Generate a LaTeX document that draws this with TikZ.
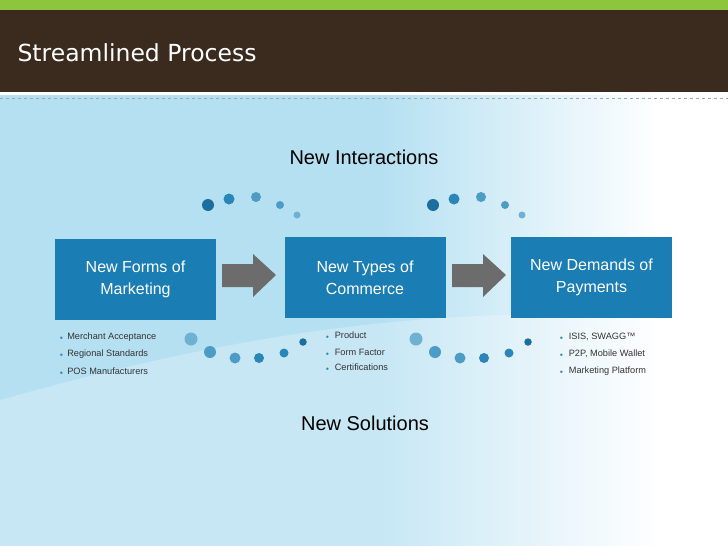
\documentclass[tikz,border=0pt]{standalone}
\usepackage{fontspec}
\setmainfont{Liberation Sans}
\newfontfamily\titlefont{DejaVu Sans}
\begin{document}
\begin{tikzpicture}[x=1pt,y=-1pt,
  box/.style={fill=boxblue,text=white,minimum width=161pt,minimum height=81pt,align=center,font=\fontsize{16}{22}\selectfont,inner sep=0pt},
  harrow/.style={fill=gray!85!black,draw=none},
  dot/.style={circle,inner sep=0pt,fill=#1},
  bl/.style={font=\fontsize{9.2}{11}\selectfont,anchor=west,text=black!80},
  lbl/.style={font=\fontsize{20}{24}\selectfont}]
\definecolor{boxblue}{HTML}{1A7DB3}
\definecolor{bgblue}{HTML}{B5E0F2}
\definecolor{brown}{HTML}{3B2A1E}
\definecolor{green}{HTML}{8CC63F}
\definecolor{d1}{HTML}{1B6E9E}
\definecolor{d2}{HTML}{2A86B8}
\definecolor{d3}{HTML}{4C9CC6}
\definecolor{d4}{HTML}{6FB1D3}
\useasboundingbox (0,0) rectangle (728,546);
\fill[bgblue] (0,95) rectangle (728,546);
\shade[left color=bgblue,right color=white] (380,95) rectangle (660,546);
\fill[white] (659,95) rectangle (728,546);
\fill[white,opacity=0.25] (0,400) .. controls (250,330) and (450,300) .. (728,320) -- (728,546) -- (0,546) -- cycle;
\fill[green] (0,0) rectangle (728,10);
\fill[brown] (0,10) rectangle (728,92);
\draw[gray!70,dashed,line width=0.8pt] (0,98) -- (728,98);
\node[anchor=west,text=white,font=\titlefont\fontsize{23.5}{26}\selectfont] (title) at (14,53) {Streamlined Process};
\node[box] (b1) at (135.5,279.5) {New Forms of\\Marketing};
\node[box] (b2) at (365,277.5) {New Types of\\Commerce};
\node[box] (b3) at (591.5,277.5) {New Demands of\\Payments};
\fill[harrow] (222,264) -- (253,264) -- (253,254) -- (276,275) -- (253,297) -- (253,287) -- (222,287) -- cycle;
\fill[harrow] (452,264) -- (483,264) -- (483,254) -- (506,275) -- (483,297) -- (483,287) -- (452,287) -- cycle;
\node[lbl] (ti) at (364,157) {New Interactions};
\node[lbl] (ts) at (365,423) {New Solutions};
\foreach \dx in {0,225}{
  \node[dot=d1,minimum size=12pt] at (208+\dx,205) {};
  \node[dot=d2,minimum size=11pt] at (229+\dx,199) {};
  \node[dot=d3,minimum size=10pt] at (256+\dx,197) {};
  \node[dot=d3,minimum size=8pt] at (280+\dx,205) {};
  \node[dot=d4,minimum size=7pt] at (297+\dx,215) {};
  \node[dot=d4,minimum size=13pt] at (191+\dx,339) {};
  \node[dot=d3,minimum size=12pt] at (210+\dx,352) {};
  \node[dot=d3,minimum size=11pt] at (235+\dx,358) {};
  \node[dot=d2,minimum size=10pt] at (259+\dx,358) {};
  \node[dot=d2,minimum size=9pt] at (284+\dx,353) {};
  \node[dot=d1,minimum size=7.5pt] at (303+\dx,342) {};
}
\node[bl] at (56,337) {\textcolor{d2}{\tiny$\bullet$}\, Merchant Acceptance};
\node[bl] at (56,354) {\textcolor{d2}{\tiny$\bullet$}\, Regional Standards};
\node[bl] at (56,371) {\textcolor{d2}{\tiny$\bullet$}\, POS Manufacturers};
\node[bl] at (322,335) {\textcolor{d2}{\tiny$\bullet$}\,\, Product};
\node[bl] at (322,352) {\textcolor{d2}{\tiny$\bullet$}\,\, Form Factor};
\node[bl] at (322,367) {\textcolor{d2}{\tiny$\bullet$}\,\, Certifications};
\node[bl] at (556,337) {\textcolor{d2}{\tiny$\bullet$}\,\, ISIS, SWAGG™};
\node[bl] at (556,354) {\textcolor{d2}{\tiny$\bullet$}\,\, P2P, Mobile Wallet};
\node[bl] at (556,371) {\textcolor{d2}{\tiny$\bullet$}\,\, Marketing Platform};
\end{tikzpicture}
\end{document}
